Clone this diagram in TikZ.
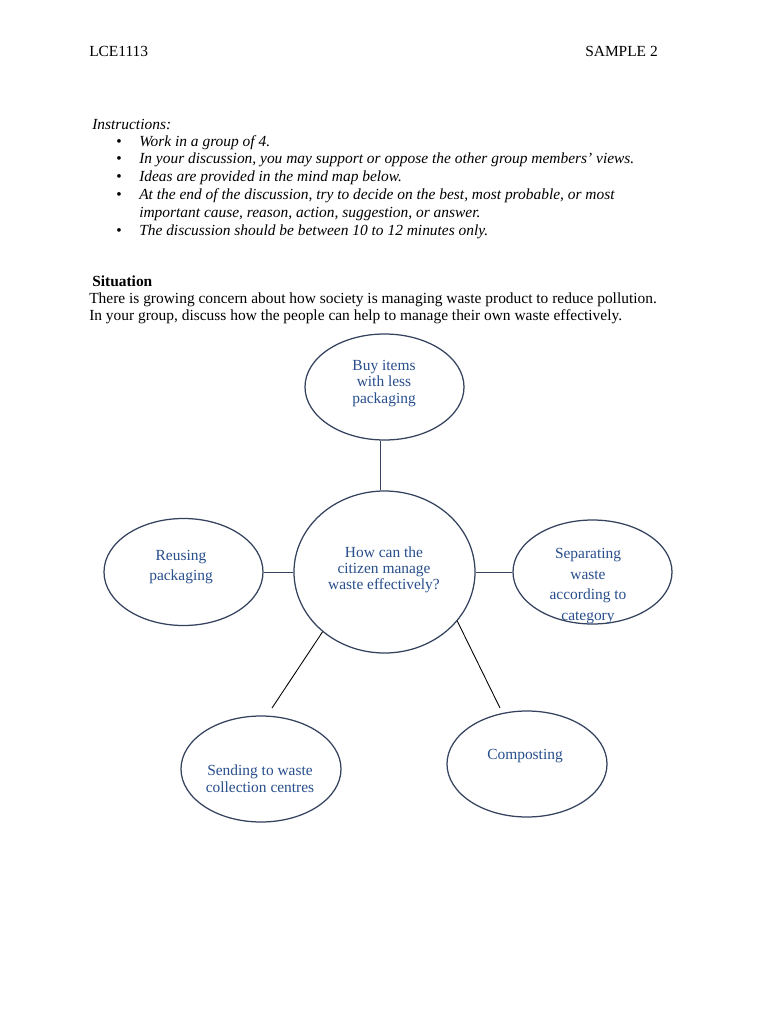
\documentclass[tikz,border=0pt]{standalone}
\usepackage{fontspec}
\setmainfont{Liberation Serif}
\usetikzlibrary{shapes.geometric}
\definecolor{edgecol}{RGB}{52,66,94}
\definecolor{inkcol}{RGB}{40,78,140}
\newcommand\myfs[1]{\fontsize{12.35}{#1}\selectfont}
\begin{document}
\begin{tikzpicture}[x=0.8pt,y=-0.8pt,
  txt/.style={inner sep=0pt, anchor=base west, font=\myfs{14}},
  itx/.style={txt, font=\myfs{14}\itshape},
  bub/.style={ellipse, draw=edgecol, line width=1pt, inner sep=0pt},
  lbl/.style={inner sep=0pt, anchor=base, align=center, text=inkcol},
  link/.style={draw=edgecol, line width=0.8pt},
  spoke/.style={draw=black, line width=0.7pt}]
\useasboundingbox[fill=white] (0,0) rectangle (768,1024);

% header
\node[txt] (code) at (89,57) {LCE1113};
\node[txt, anchor=base east] (sample) at (658,57) {SAMPLE 2};

% instructions
\node[itx] (instr) at (92,130) {Instructions:};
\foreach \yy/\tt [count=\i] in {
  147/{Work in a group of 4.},
  164/{In your discussion, you may support or oppose the other group members’ views.},
  182/{Ideas are provided in the mind map below.},
  200/{At the end of the discussion, try to decide on the best, most probable, or most},
  235/{The discussion should be between 10 to 12 minutes only.}}{
  \node[txt, anchor=base] (bul\i) at (119,\yy) {\textbullet};
  \node[itx] (item\i) at (139,\yy) {\tt};
}
\node[itx] (item4b) at (139,218) {important cause, reason, action, suggestion, or answer.};

% situation
\node[txt, font=\myfs{14}\bfseries] (sit) at (92,286) {Situation};
\node[txt] (sit1) at (89,303) {There is growing concern about how society is managing waste product to reduce pollution.};
\node[txt] (sit2) at (89,320) {In your group, discuss how the people can help to manage their own waste effectively.};

% mind map
\node[bub, minimum width=127.2pt, minimum height=84.8pt] (top) at (384.5,387) {};
\node[bub, minimum width=144.8pt, minimum height=129.6pt] (ctr) at (384.5,572) {};
\node[bub, minimum width=127.2pt, minimum height=85.6pt] (left) at (183.5,572) {};
\node[bub, minimum width=127.2pt, minimum height=83.2pt] (right) at (592.5,572) {};
\node[bub, minimum width=128pt, minimum height=84.8pt] (bl) at (261,769) {};
\node[bub, minimum width=128pt, minimum height=84.8pt] (br) at (527,764) {};

\node[lbl, font=\myfs{13.2}] (topt) at (384,403) {Buy items\\with less\\packaging};
\node[lbl, font=\myfs{12.8}] (ctrt) at (384,589) {How can the\\citizen manage\\waste effectively?};
\node[lbl, font=\myfs{16}] (leftt) at (181,580) {Reusing\\packaging};
\node[lbl, font=\myfs{16.4}] (rightt) at (588,620) {Separating\\waste\\according to\\category};
\node[lbl, font=\myfs{13.6}] (blt) at (260,792) {Sending to waste\\collection centres};
\node[lbl, font=\myfs{13.6}] (brt) at (525,759) {Composting};

\coordinate (bltip) at (272,708);
\coordinate (brtip) at (500,708);

\draw[link] ([xshift=-3.6pt]top.south) -- ([xshift=-3.6pt]ctr.north);
\draw[link] (left.east) -- (ctr.west);
\draw[link] (ctr.east) -- (right.west);
\draw[spoke] (ctr.224) -- (bltip);
\draw[spoke] (ctr.326) -- (brtip);
\end{tikzpicture}
\end{document}
